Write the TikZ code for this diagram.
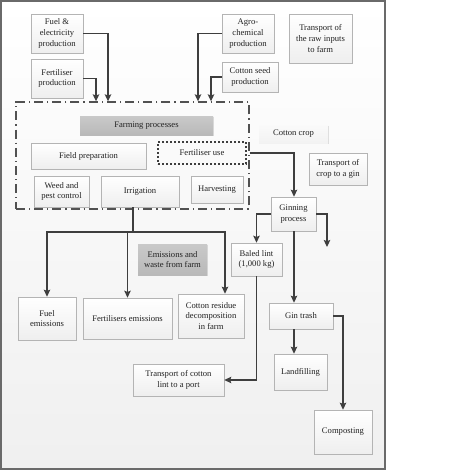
\documentclass[tikz,border=0pt]{standalone}
\usepackage{fontspec}
\setmainfont{Liberation Serif}
\usetikzlibrary{arrows.meta,shadows}
\definecolor{framec}{HTML}{6A6A6A}
\definecolor{linec}{HTML}{3E3E3E}
\definecolor{boxb}{HTML}{B4B4B4}
\definecolor{txtc}{HTML}{222222}
\definecolor{grayf}{HTML}{C9C9C9}
\begin{document}
\begin{tikzpicture}[x=1pt,y=-1pt,
  box/.style={draw=boxb, line width=0.6pt, top color=white, bottom color=gray!13,
    drop shadow={shadow xshift=1.2pt,shadow yshift=-1.2pt,opacity=0.25,fill=gray},
    align=center, inner sep=1pt, text=txtc, font=\fontsize{8.6}{10.8}\selectfont},
  graybox/.style={box, draw=none, top color=grayf, bottom color=grayf!90!black!95},
  lightbox/.style={box, draw=none, top color=gray!4, bottom color=gray!10},
  dotbox/.style={draw=linec, line width=1.8pt, dash pattern=on 1.7pt off 2.3pt,
    align=center, inner sep=1pt, text=txtc, font=\fontsize{8.6}{10.8}\selectfont},
  dashbox/.style={draw=linec!90, line width=1.4pt, dash pattern=on 9pt off 4pt on 1.2pt off 4pt},
  arr/.style={draw=linec, line width=1.2pt, -{Stealth[length=7pt,width=6.5pt,inset=1.2pt]}},
  ln/.style={draw=linec, line width=1.2pt}
]
\useasboundingbox (0,0) rectangle (474,474);
\fill[white] (0,0) rectangle (474,474);
\shade[top color=white, bottom color=gray!12] (1,1) rectangle (385,469);
\draw[framec, line width=1.5pt] (1,1) rectangle (385,469);

% farm dashed region
\node[dashbox, minimum width=233pt, minimum height=107pt, inner sep=0pt] (farm) at (132.5,155.5) {};

% top inputs
\node[box, minimum width=52pt, minimum height=39pt] (fuel) at (57,33.5) {Fuel \&\\electricity\\production};
\node[box, minimum width=52pt, minimum height=39pt] (fertprod) at (57,78.5) {Fertiliser\\production};
\node[box, minimum width=52pt, minimum height=39pt] (agro) at (248,33.5) {Agro-\\chemical\\production};
\node[box, minimum width=63pt, minimum height=49pt] (transraw) at (320.5,38.5) {Transport of\\the raw inputs\\to farm};
\node[box, minimum width=56pt, minimum height=30pt] (seed) at (250,77) {Cotton seed\\production};

% farming processes
\node[graybox, minimum width=133pt, minimum height=19pt] (farming) at (146.5,125.5) {Farming processes};
\node[box, minimum width=115pt, minimum height=26pt] (fieldprep) at (88.5,156) {Field preparation};
\node[dotbox, minimum width=88pt, minimum height=22pt] (fertuse) at (202,153) {Fertiliser use};
\node[box, minimum width=55pt, minimum height=31pt] (weed) at (61.5,191.5) {Weed and\\pest control};
\node[box, minimum width=78pt, minimum height=31pt] (irrig) at (140,191.5) {Irrigation};
\node[box, minimum width=52pt, minimum height=27pt] (harvest) at (217,189.5) {Harvesting};

% right column
\node[lightbox, minimum width=69pt, minimum height=18pt] (crop) at (293.5,134) {Cotton crop};
\node[box, minimum width=58pt, minimum height=32pt] (transgin) at (338,169) {Transport of\\crop to a gin};
\node[box, minimum width=45pt, minimum height=34pt] (ginning) at (293.5,214) {Ginning\\process};
\node[box, minimum width=51pt, minimum height=33pt] (baled) at (256.5,259.5) {Baled lint\\(1,000 kg)};
\node[box, minimum width=64pt, minimum height=26pt] (gintrash) at (301,316) {Gin trash};
\node[box, minimum width=53pt, minimum height=36pt] (landfill) at (300.5,372) {Landfilling};
\node[box, minimum width=58pt, minimum height=44pt] (compost) at (343,432) {Composting};
\node[box, minimum width=91pt, minimum height=32pt] (port) at (178.5,380) {Transport of cotton\\lint to a port};

% emissions
\node[graybox, minimum width=69pt, minimum height=31pt] (emis) at (172.5,259.5) {Emissions and\\waste from farm};
\node[box, minimum width=58pt, minimum height=43pt] (fuelem) at (47,318.5) {Fuel\\emissions};
\node[box, minimum width=89pt, minimum height=41pt] (fertem) at (127.5,318.5) {Fertilisers emissions};
\node[box, minimum width=66pt, minimum height=44pt] (residue) at (211,316) {Cotton residue\\decomposition\\in farm};

% helper coordinates
\coordinate (c1) at (108,0);
\coordinate (c2) at (96,0);
\coordinate (c3) at (198,0);
\coordinate (c4) at (211,0);
\coordinate (j) at (133,232);
\coordinate (r) at (225,232);
\coordinate (gx) at (294,0);
\coordinate (gend) at (327,247);

% input arrows
\draw[arr] (fuel.east) -| (c1 |- farm.north);
\draw[arr] (fertprod.east) -| (c2 |- farm.north);
\draw[arr] (agro.west) -| (c3 |- farm.north);
\draw[arr] (seed.west) -| (c4 |- farm.north);

% to ginning
\draw[arr] (farm.east |- fertuse.east) -| (gx |- ginning.north);
\draw[arr] (ginning.west) -| (baled.north);
\draw[arr] (ginning.east) -| (gend);
\draw[arr] (gx |- ginning.south) -- (gx |- gintrash.north);
\draw[arr] (gx |- gintrash.south) -- (gx |- landfill.north);
\draw[arr] (gintrash.east) -| (compost.north);
\draw[arr] (baled.south) |- (port.east);

% emissions arrows
\draw[ln] (j |- irrig.south) -- (j);
\draw[arr] (j) -| (fuelem.north);
\draw[arr] (j) -- (r) -- (r |- residue.north);
\draw[arr] (fertem.north |- j) -- (fertem.north);
\end{tikzpicture}
\end{document}
